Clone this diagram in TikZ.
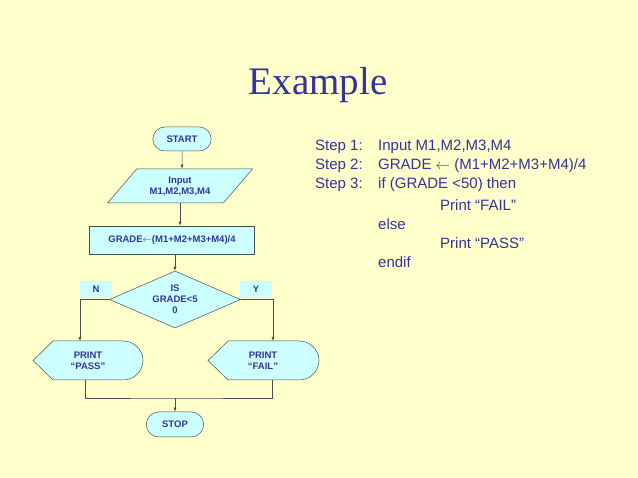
\documentclass[tikz,border=0pt]{standalone}
\usepackage{fontspec}
\setmainfont{Liberation Sans}
\newfontfamily\titlefont{Liberation Serif}
\usetikzlibrary{shapes.geometric,shapes.misc,arrows.meta}
\definecolor{bg}{RGB}{255,255,204}
\definecolor{box}{RGB}{204,255,255}
\definecolor{ink}{RGB}{51,51,153}
\newcommand{\stp}[1]{\makebox[63pt][l]{#1}}
\begin{document}
\begin{tikzpicture}[x=1pt,y=-1pt,
  shp/.style={draw=black!70,fill=box,line width=0.5pt},
  lbl/.style={text=ink,font=\fontsize{9.5}{11}\selectfont\bfseries,align=center},
  arr/.style={draw=black!70,line width=0.5pt,-{Latex[length=4pt,width=3pt]}},
  ln/.style={draw=black!70,line width=0.5pt},
  steptxt/.style={text=ink,font=\fontsize{15}{17}\selectfont,anchor=west,inner sep=0}]
\fill[bg] (0,0) rectangle (638,478);
\useasboundingbox (0,0) rectangle (638,478);
\node[text=ink,font=\titlefont\fontsize{39}{42}\selectfont] (title) at (318,85) {Example};
% shapes
\node[shp,rounded rectangle,minimum width=65pt,minimum height=24pt,lbl] (start) at (182,139) {START};
\node[shp,trapezium,trapezium stretches=true,trapezium left angle=45,trapezium right angle=135,minimum width=145pt,minimum height=34pt,lbl,inner sep=1pt] (in) at (180,186) {Input\\M1,M2,M3,M4};
\node[shp,rectangle,minimum width=165pt,minimum height=28pt,lbl] (grade) at (172,240) {GRADE$\leftarrow$(M1+M2+M3+M4)/4};
\node[shp,diamond,aspect=2.3,minimum width=131pt,minimum height=57pt,lbl,inner sep=0] (dec) at (175,299.5) {IS\\GRADE<5\\0};
\node[fill=box,minimum width=32pt,minimum height=17pt,lbl] (nb) at (96,289.5) {N};
\node[fill=box,minimum width=32pt,minimum height=17pt,lbl] (yb) at (256,289.5) {Y};
\path[shp] (33,360.5) -- (53,341) -- (123,341) arc[start angle=-90,end angle=90,x radius=20,y radius=19.5] -- (53,380) -- cycle;
\node[lbl] (pass) at (88,360.5) {PRINT\\``PASS''};
\path[shp] (208,360.5) -- (228,341) -- (299,341) arc[start angle=-90,end angle=90,x radius=20,y radius=19.5] -- (228,380) -- cycle;
\node[lbl] (fail) at (263,360.5) {PRINT\\``FAIL''};
\node[shp,rounded rectangle,minimum width=64pt,minimum height=25pt,lbl] (stop) at (175,424.5) {STOP};
\coordinate (pt) at (80,341);
\coordinate (ft) at (273,341);
\coordinate (m) at (175,398);
% connectors
\draw[arr] (start) -- (in.north -| start);
\draw[arr] (in.south) -- (grade.north -| in.south);
\draw[arr] (grade.south -| dec.north) -- (dec.north);
\draw[arr] (dec.west) -| (pt);
\draw[arr] (dec.east) -| (ft);
\draw[ln] (85,380) |- (m) -| (272,380);
\draw[arr] (m) -- (stop.north);
% steps
\node[steptxt] (s1) at (315,147) {\stp{Step 1:}Input M1,M2,M3,M4};
\node[steptxt] (s2) at (315,166) {\stp{Step 2:}GRADE $\leftarrow$ (M1+M2+M3+M4)/4};
\node[steptxt] (s3) at (315,185) {\stp{Step 3:}if (GRADE <50) then};
\node[steptxt] (s4) at (440,205) {Print ``FAIL''};
\node[steptxt] (s5) at (378,224) {else};
\node[steptxt] (s6) at (440,243) {Print ``PASS''};
\node[steptxt] (s7) at (378,262) {endif};
\end{tikzpicture}
\end{document}
